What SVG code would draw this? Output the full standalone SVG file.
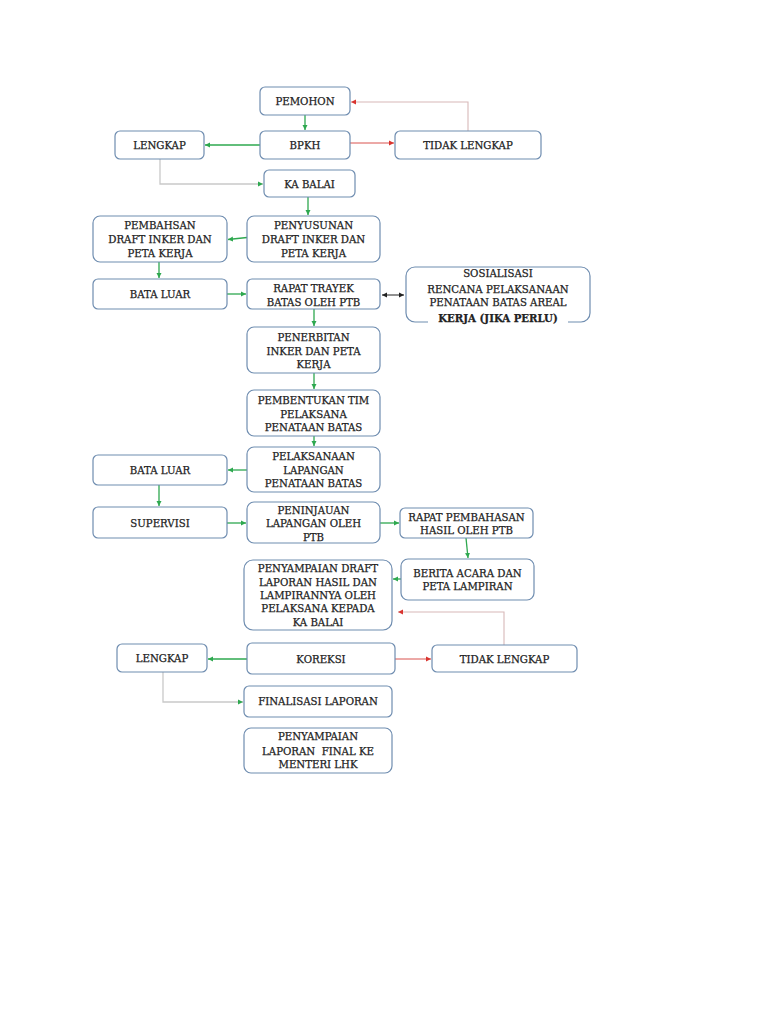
<svg xmlns="http://www.w3.org/2000/svg" width="768" height="1024" viewBox="0 0 768 1024">
<style>
.n rect{fill:#fff;stroke:#6f8db0;stroke-width:1.2}
.n text{font-family:"DejaVu Serif Condensed","DejaVu Serif",serif;font-size:11.3px;fill:#222;stroke:#222;stroke-width:0.25;text-anchor:middle}
.g{stroke:#2ea84f;stroke-width:1.3;fill:none}
.r{stroke:#d9534f;stroke-width:1;fill:none}
.gr{stroke:#c9c9c9;stroke-width:1.3;fill:none}
.rg{stroke:#d8b8b8;stroke-width:1.1;fill:none}
.k{stroke:#222;stroke-width:1;fill:none}
</style>
<defs>
<marker id="ag" markerWidth="6" markerHeight="6" refX="5" refY="3" orient="auto" markerUnits="userSpaceOnUse"><path d="M0,0.5 L5,3 L0,5.5z" fill="#2ea84f"/></marker>
<marker id="ar" markerWidth="6" markerHeight="6" refX="5" refY="3" orient="auto" markerUnits="userSpaceOnUse"><path d="M0,0.5 L5,3 L0,5.5z" fill="#d9342f"/></marker>
<marker id="ak" markerWidth="6" markerHeight="6" refX="5" refY="3" orient="auto-start-reverse" markerUnits="userSpaceOnUse"><path d="M0,0.5 L5,3 L0,5.5z" fill="#222"/></marker>
</defs>
<rect width="768" height="1024" fill="#fff"/>
<g id="connectors">
<path class="g" d="M305,115 V130" marker-end="url(#ag)"/>
<path class="g" d="M260,145 H205" marker-end="url(#ag)"/>
<path class="r" d="M350,143 H394" marker-end="url(#ar)"/>
<path class="rg" d="M468,131 V102 H351" marker-end="url(#ar)"/>
<path class="gr" d="M160,159 V184 H263" marker-end="url(#ag)"/>
<path class="g" d="M308,197 V215" marker-end="url(#ag)"/>
<path class="g" d="M247,237.5 L228,239.5" marker-end="url(#ag)"/>
<path class="g" d="M159,262 V278" marker-end="url(#ag)"/>
<path class="g" d="M227,294 H246" marker-end="url(#ag)"/>
<path class="k" d="M382,295 H404" marker-start="url(#ak)" marker-end="url(#ak)"/>
<path class="g" d="M314,309 V326" marker-end="url(#ag)"/>
<path class="g" d="M314,373 V389" marker-end="url(#ag)"/>
<path class="g" d="M314,436 V446" marker-end="url(#ag)"/>
<path class="g" d="M247,470 H228" marker-end="url(#ag)"/>
<path class="g" d="M159,485 V506" marker-end="url(#ag)"/>
<path class="g" d="M227,523 H246" marker-end="url(#ag)"/>
<path class="g" d="M380,523 H399" marker-end="url(#ag)"/>
<path class="g" d="M466,538 L468,558" marker-end="url(#ag)"/>
<path class="g" d="M401,579 H393" marker-end="url(#ag)"/>
<path class="rg" d="M504,645 V612 H398" marker-end="url(#ar)"/>
<path class="g" d="M247,659 H208" marker-end="url(#ag)"/>
<path class="r" d="M395,659 H431" marker-end="url(#ar)"/>
<path class="gr" d="M163,672 V702 H243" marker-end="url(#ag)"/>
</g>
<g id="pemohon" class="n"><rect x="260" y="87" width="90" height="28" rx="5"/><text x="305" y="105">PEMOHON</text></g>
<g id="bpkh" class="n"><rect x="260" y="131" width="90" height="28" rx="5"/><text x="305" y="149">BPKH</text></g>
<g id="lengkap1" class="n"><rect x="115" y="131" width="89" height="28" rx="5"/><text x="159.5" y="149">LENGKAP</text></g>
<g id="tidak-lengkap1" class="n"><rect x="395" y="131" width="146" height="28" rx="5"/><text x="468" y="149">TIDAK LENGKAP</text></g>
<g id="ka-balai" class="n"><rect x="264" y="170" width="91" height="27" rx="5"/><text x="309.5" y="187.5">KA BALAI</text></g>
<g id="pembahsan" class="n"><rect x="93" y="216" width="134" height="46" rx="7"/><text x="160" y="229">PEMBAHSAN</text><text x="160" y="243">DRAFT INKER DAN</text><text x="160" y="257">PETA KERJA</text></g>
<g id="penyusunan" class="n"><rect x="247" y="216" width="133" height="46" rx="7"/><text x="313.5" y="229">PENYUSUNAN</text><text x="313.5" y="243">DRAFT INKER DAN</text><text x="313.5" y="257">PETA KERJA</text></g>
<g id="bata-luar1" class="n"><rect x="93" y="279" width="134" height="30" rx="5"/><text x="160" y="298">BATA LUAR</text></g>
<g id="rapat-trayek" class="n"><rect x="247" y="279" width="133" height="30" rx="5"/><text x="313.5" y="291.5">RAPAT TRAYEK</text><text x="313.5" y="306">BATAS OLEH PTB</text></g>
<g id="sosialisasi" class="n"><rect x="406" y="267" width="184" height="55" rx="9"/><rect x="428" y="313" width="140" height="12" style="stroke:none"/><text x="498" y="277">SOSIALISASI</text><text x="498" y="292.5">RENCANA PELAKSANAAN</text><text x="498" y="305.5">PENATAAN BATAS AREAL</text><text x="498" y="322" style="font-weight:bold">KERJA (JIKA PERLU)</text></g>
<g id="penerbitan" class="n"><rect x="247" y="327" width="133" height="46" rx="7"/><text x="313.5" y="340.5">PENERBITAN</text><text x="313.5" y="354.5">INKER DAN PETA</text><text x="313.5" y="368">KERJA</text></g>
<g id="pembentukan" class="n"><rect x="247" y="390" width="133" height="46" rx="7"/><text x="313.5" y="404">PEMBENTUKAN TIM</text><text x="313.5" y="418">PELAKSANA</text><text x="313.5" y="431">PENATAAN BATAS</text></g>
<g id="pelaksanaan" class="n"><rect x="247" y="447" width="133" height="45" rx="7"/><text x="313.5" y="460">PELAKSANAAN</text><text x="313.5" y="474">LAPANGAN</text><text x="313.5" y="487">PENATAAN BATAS</text></g>
<g id="bata-luar2" class="n"><rect x="93" y="455" width="134" height="30" rx="5"/><text x="160" y="474">BATA LUAR</text></g>
<g id="supervisi" class="n"><rect x="93" y="507" width="134" height="31" rx="5"/><text x="160" y="527">SUPERVISI</text></g>
<g id="peninjauan" class="n"><rect x="247" y="502" width="133" height="41" rx="7"/><text x="313.5" y="514">PENINJAUAN</text><text x="313.5" y="527">LAPANGAN OLEH</text><text x="313.5" y="540.5">PTB</text></g>
<g id="rapat-pembahasan" class="n"><rect x="400" y="508" width="133" height="30" rx="5"/><text x="466.5" y="520.5">RAPAT PEMBAHASAN</text><text x="466.5" y="534">HASIL OLEH PTB</text></g>
<g id="berita-acara" class="n"><rect x="401" y="559" width="133" height="41" rx="7"/><text x="467.5" y="577">BERITA ACARA DAN</text><text x="467.5" y="590">PETA LAMPIRAN</text></g>
<g id="penyampaian-draft" class="n"><rect x="244" y="560" width="148" height="70" rx="9"/><text x="318" y="572">PENYAMPAIAN DRAFT</text><text x="318" y="585.5">LAPORAN HASIL DAN</text><text x="318" y="599">LAMPIRANNYA OLEH</text><text x="318" y="612">PELAKSANA KEPADA</text><text x="318" y="626">KA BALAI</text></g>
<g id="lengkap2" class="n"><rect x="117" y="644" width="90" height="28" rx="5"/><text x="162" y="662">LENGKAP</text></g>
<g id="koreksi" class="n"><rect x="247" y="643" width="148" height="31" rx="5"/><text x="321" y="662.5">KOREKSI</text></g>
<g id="tidak-lengkap2" class="n"><rect x="432" y="645" width="145" height="27" rx="5"/><text x="504.5" y="662.5">TIDAK LENGKAP</text></g>
<g id="finalisasi" class="n"><rect x="244" y="686" width="148" height="31" rx="5"/><text x="318" y="705">FINALISASI LAPORAN</text></g>
<g id="penyampaian-final" class="n"><rect x="244" y="728" width="148" height="45" rx="7"/><text x="318" y="740">PENYAMPAIAN</text><text x="318" y="754.5" xml:space="preserve">LAPORAN  FINAL KE</text><text x="318" y="768">MENTERI LHK</text></g>
</svg>
